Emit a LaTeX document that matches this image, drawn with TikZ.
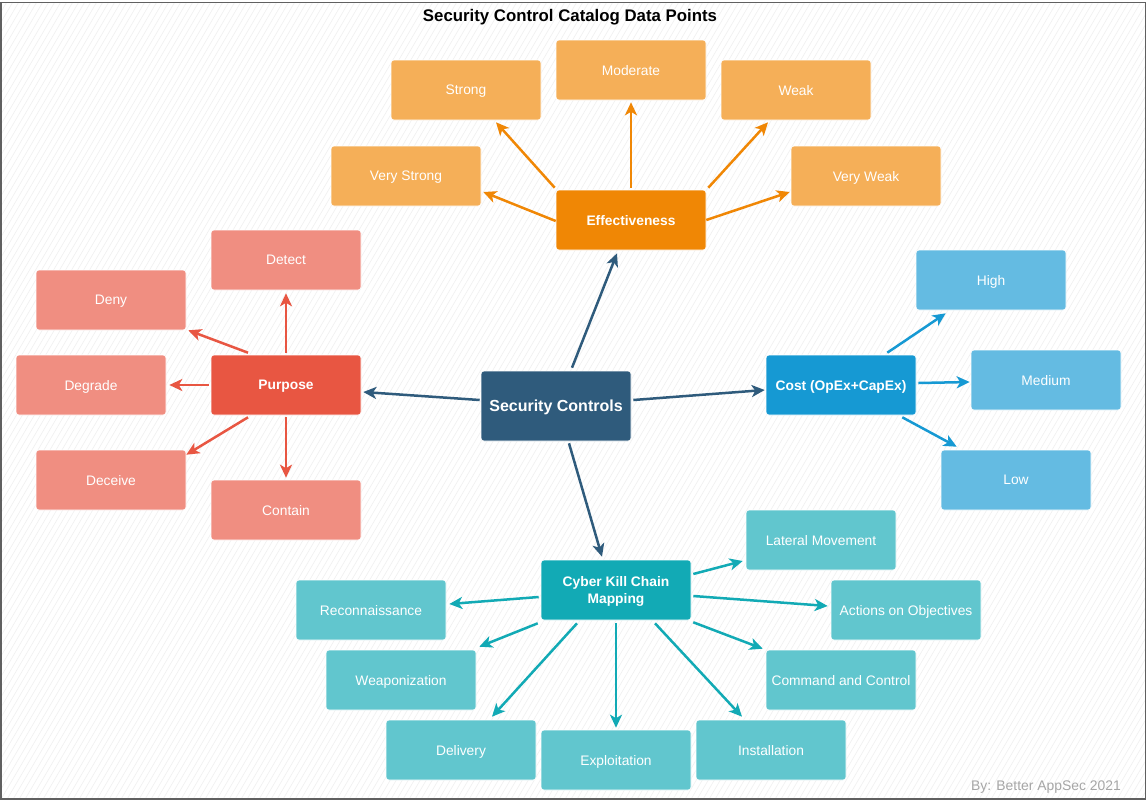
\documentclass[tikz,border=0pt]{standalone}
\usepackage{fontspec}
\setmainfont{Liberation Sans}
\usetikzlibrary{arrows.meta}
\definecolor{effD}{HTML}{F08705}
\definecolor{effL}{HTML}{F5AF58}
\definecolor{scC}{HTML}{2F5B7C}
\definecolor{purD}{HTML}{E85642}
\definecolor{purL}{HTML}{F08E81}
\definecolor{costD}{HTML}{1699D3}
\definecolor{costL}{HTML}{64BBE2}
\definecolor{ckcD}{HTML}{12AAB5}
\definecolor{ckcL}{HTML}{61C6CE}
\definecolor{footC}{HTML}{A6A6A6}
\tikzset{
  box/.style={rectangle, rounded corners=3pt, minimum width=150pt, minimum height=60pt,
    inner sep=2pt, text=white, draw=white, line width=0.6pt, align=center, text depth=0pt,
    font=\fontsize{13.8}{16}\selectfont},
  hub/.style={box, font=\bfseries\fontsize{13.8}{17}\selectfont},
  conn/.style={line width=2.5pt, -{Stealth[length=13pt,width=12pt,inset=3.5pt]}},
  hatch/.style={draw=black!6, line width=0.6pt}
}
\begin{document}
\begin{tikzpicture}[x=1pt,y=-1pt]
\useasboundingbox (0,0) rectangle (1147,801);
\fill[white] (0,0) rectangle (1147,801);
\begin{scope}
\clip (1,2.5) rectangle (1145.5,799);
\foreach \i in {-480,-474,...,1150} \draw[hatch] (\i,801) -- ++(470,-801);
\end{scope}
\draw[gray!75!black, line width=1.5pt] (1,2.5) rectangle (1145.5,799);

\node[font=\bfseries\fontsize{16.8}{19}\selectfont, text depth=0pt] (title) at (570,15) {Security Control Catalog Data Points};
\node[font=\fontsize{13.9}{16}\selectfont, text=footC, text depth=0pt] (foot) at (1046,786) {By: Better AppSec 2021};

% hubs
\node[box, fill=scC, minimum height=70pt, font=\bfseries\fontsize{16}{19}\selectfont] (sc) at (556,406) {Security Controls};
\node[hub, fill=effD] (eff) at (631,220) {Effectiveness};
\node[hub, fill=purD] (pur) at (286,385) {Purpose};
\node[hub, fill=costD] (cost) at (841,385) {Cost (OpEx+CapEx)};
\node[hub, fill=ckcD] (ckc) at (616,590) {Cyber Kill Chain\\Mapping};

% effectiveness leaves
\node[box, fill=effL] (strong) at (466,90) {Strong};
\node[box, fill=effL] (mod) at (631,70) {Moderate};
\node[box, fill=effL] (weak) at (796,90) {Weak};
\node[box, fill=effL] (vs) at (406,176) {Very Strong};
\node[box, fill=effL] (vw) at (866,176) {Very Weak};

% purpose leaves
\node[box, fill=purL] (det) at (286,260) {Detect};
\node[box, fill=purL] (deny) at (111,300) {Deny};
\node[box, fill=purL] (deg) at (91,385) {Degrade};
\node[box, fill=purL] (dec) at (111,480) {Deceive};
\node[box, fill=purL] (con) at (286,510) {Contain};

% cost leaves
\node[box, fill=costL] (high) at (991,280) {High};
\node[box, fill=costL] (med) at (1046,380) {Medium};
\node[box, fill=costL] (low) at (1016,480) {Low};

% kill chain leaves
\node[box, fill=ckcL] (lat) at (821,540) {Lateral Movement};
\node[box, fill=ckcL] (act) at (906,610) {Actions on Objectives};
\node[box, fill=ckcL] (cmd) at (841,680) {Command and Control};
\node[box, fill=ckcL] (ins) at (771,750) {Installation};
\node[box, fill=ckcL] (exp) at (616,760) {Exploitation};
\node[box, fill=ckcL] (del) at (461,750) {Delivery};
\node[box, fill=ckcL] (wea) at (401,680) {Weaponization};
\node[box, fill=ckcL] (rec) at (371,610) {Reconnaissance};

% security controls arrows
\draw[conn, scC] ([shift={(-1,-6)}]sc.west) -- ([shift={(2,7)}]pur.east);
\draw[conn, scC] ([shift={(2,-6)}]sc.east) -- ([shift={(-1,5)}]cost.west);
\draw[conn, scC] ([shift={(16,-3)}]sc.north) -- ([shift={(-14,3)}]eff.south);
\draw[conn, scC] ([shift={(13,2)}]sc.south) -- ([shift={(-14,-3)}]ckc.north);

% effectiveness arrows
\draw[conn, effD] ([shift={(0,1)}]eff.west) -- ([shift={(2,16)}]vs.east);
\draw[conn, effD] ([shift={(-1,-2)}]eff.north west) -- ([shift={(30,2)}]strong.south);
\draw[conn, effD] ([shift={(0,-2)}]eff.north) -- ([shift={(0,2)}]mod.south);
\draw[conn, effD] ([shift={(2,-2)}]eff.north east) -- ([shift={(-28,2)}]weak.south);
\draw[conn, effD] (eff.east) -- ([shift={(-1,16)}]vw.west);

% purpose arrows
\draw[conn, purD] ([shift={(0,-2)}]pur.north) -- ([shift={(0,3)}]det.south);
\draw[conn, purD] ([shift={(-38,-2)}]pur.north) -- ([shift={(2,0)}]deny.south east);
\draw[conn, purD] ([shift={(-2,0)}]pur.west) -- ([shift={(3,0)}]deg.east);
\draw[conn, purD] ([shift={(-38,2)}]pur.south) -- ([shift={(0,5)}]dec.north east);
\draw[conn, purD] ([shift={(0,2)}]pur.south) -- ([shift={(0,-2)}]con.north);

% cost arrows
\draw[conn, costD] ([shift={(-29,-2)}]cost.north east) -- ([shift={(30,3)}]high.south west);
\draw[conn, costD] ([shift={(2,-2)}]cost.east) -- ([shift={(-1,2)}]med.west);
\draw[conn, costD] ([shift={(-14,2)}]cost.south east) -- ([shift={(16,-3)}]low.north west);

% kill chain arrows
\draw[conn, ckcD] ([shift={(2,-16)}]ckc.east) -- ([shift={(-3,21)}]lat.west);
\draw[conn, ckcD] ([shift={(2,6)}]ckc.east) -- ([shift={(-3,-4)}]act.west);
\draw[conn, ckcD] ([shift={(2,2)}]ckc.south east) -- ([shift={(-3,-1)}]cmd.north west);
\draw[conn, ckcD] ([shift={(39,3)}]ckc.south) -- ([shift={(-29,-3)}]ins.north);
\draw[conn, ckcD] ([shift={(0,3)}]ckc.south) -- ([shift={(0,-2)}]exp.north);
\draw[conn, ckcD] ([shift={(-39,3)}]ckc.south) -- ([shift={(31,-3)}]del.north);
\draw[conn, ckcD] ([shift={(-3,3)}]ckc.south west) -- ([shift={(3,-3)}]wea.north east);
\draw[conn, ckcD] ([shift={(-2,7)}]ckc.west) -- ([shift={(3,-6)}]rec.east);
\end{tikzpicture}
\end{document}
